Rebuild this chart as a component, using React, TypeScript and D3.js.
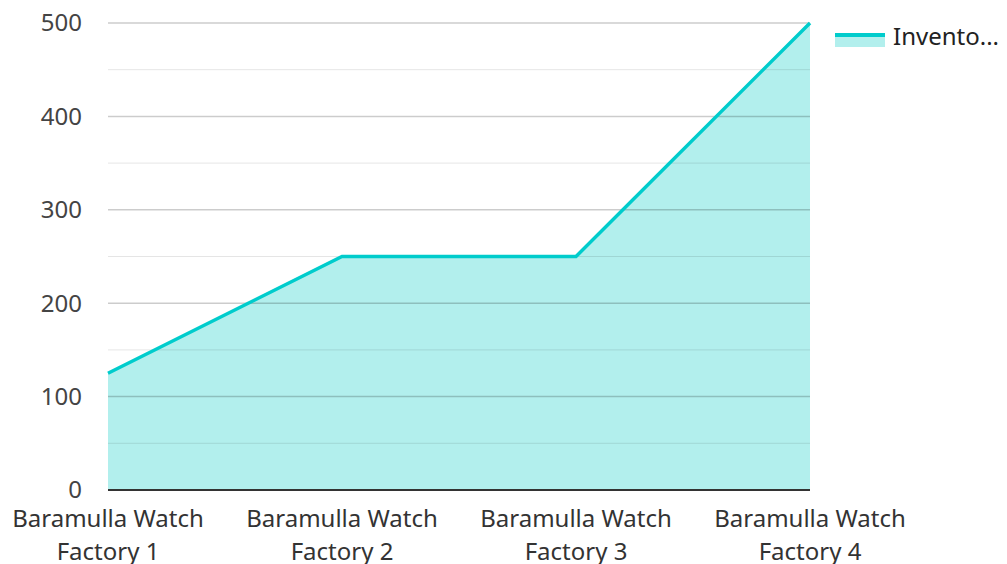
import * as React from 'react';
import * as d3 from 'd3';

const categories = [
  'Baramulla Watch Factory 1',
  'Baramulla Watch Factory 2',
  'Baramulla Watch Factory 3',
  'Baramulla Watch Factory 4',
];
const inventory = [125, 250, 250, 500];
const yTicks = [0, 100, 200, 300, 400, 500];
const minorTicks = [50, 150, 250, 350, 450];
const seriesName = 'Invento...';

const width = 1007;
const height = 564;
const margin = { top: 23, right: 197, bottom: 74, left: 108 };
const font = '"Noto Sans", "Open Sans", sans-serif';

export default function App() {
  const ref = React.useRef<SVGSVGElement>(null);

  React.useEffect(() => {
    const svg = d3.select(ref.current);
    svg.selectAll('*').remove();

    const x = d3
      .scalePoint<string>()
      .domain(categories)
      .range([margin.left, width - margin.right]);
    const y = d3
      .scaleLinear()
      .domain([0, 500])
      .range([height - margin.bottom, margin.top]);

    const data = categories.map((c, i) => ({ c, v: inventory[i] }));

    const area = d3
      .area<{ c: string; v: number }>()
      .x(d => x(d.c) as number)
      .y0(y(0))
      .y1(d => y(d.v));
    const line = d3
      .line<{ c: string; v: number }>()
      .x(d => x(d.c) as number)
      .y(d => y(d.v));

    svg.append('path').attr('d', area(data)).attr('fill', '#b2efed');

    // grid on top of the fill
    svg
      .append('g')
      .selectAll('line.minor')
      .data(minorTicks)
      .enter()
      .append('line')
      .attr('x1', margin.left)
      .attr('x2', width - margin.right)
      .attr('y1', d => y(d))
      .attr('y2', d => y(d))
      .attr('stroke', 'rgba(0,0,0,0.1)')
      .attr('stroke-width', 1);
    svg
      .append('g')
      .selectAll('line.major')
      .data(yTicks.filter(t => t > 0))
      .enter()
      .append('line')
      .attr('x1', margin.left)
      .attr('x2', width - margin.right)
      .attr('y1', d => y(d))
      .attr('y2', d => y(d))
      .attr('stroke', 'rgba(0,0,0,0.2)')
      .attr('stroke-width', 1.5);

    svg
      .append('line')
      .attr('x1', margin.left)
      .attr('x2', width - margin.right)
      .attr('y1', y(0))
      .attr('y2', y(0))
      .attr('stroke', '#333')
      .attr('stroke-width', 2);

    svg
      .append('path')
      .attr('d', line(data))
      .attr('fill', 'none')
      .attr('stroke', '#00cccc')
      .attr('stroke-width', 3.5);

    svg
      .append('g')
      .selectAll('text')
      .data(yTicks)
      .enter()
      .append('text')
      .attr('x', 82)
      .attr('y', d => y(d))
      .attr('dy', '0.35em')
      .attr('text-anchor', 'end')
      .attr('font-family', font)
      .attr('font-size', 24)
      .attr('fill', '#444')
      .text(d => d);

    const xl = svg
      .append('g')
      .selectAll('text')
      .data(categories)
      .enter()
      .append('text')
      .attr('text-anchor', 'middle')
      .attr('font-family', font)
      .attr('font-size', 24)
      .attr('fill', '#333');
    xl.append('tspan')
      .attr('x', d => x(d) as number)
      .attr('y', 527)
      .text(d => d.split(' ').slice(0, 2).join(' '));
    xl.append('tspan')
      .attr('x', d => x(d) as number)
      .attr('y', 560)
      .text(d => d.split(' ').slice(2).join(' '));

    // legend
    const lg = svg.append('g').attr('transform', 'translate(835,35)');
    lg.append('rect').attr('x', 0).attr('y', 0).attr('width', 50).attr('height', 12).attr('fill', '#b2efed');
    lg.append('line').attr('x1', 0).attr('x2', 50).attr('y1', 0).attr('y2', 0).attr('stroke', '#00cccc').attr('stroke-width', 4);
    lg.append('text')
      .attr('x', 58)
      .attr('y', 2)
      .attr('dy', '0.35em')
      .attr('font-family', font)
      .attr('font-size', 24)
      .attr('fill', '#222')
      .text(seriesName);
  }, []);

  return (
    <svg
      ref={ref}
      width={width}
      height={height}
      style={{ position: 'absolute', left: 0, top: 0, background: '#fff' }}
    />
  );
}
